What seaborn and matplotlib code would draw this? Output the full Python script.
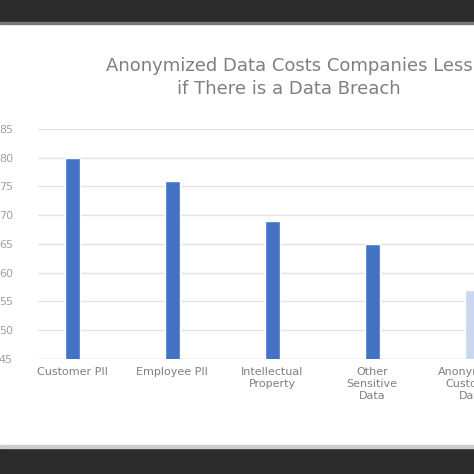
import matplotlib
matplotlib.use("Agg")
import matplotlib.pyplot as plt
import matplotlib.patches as mpatches
import seaborn as sns
import pandas as pd

categories = ["Customer PII", "Employee PII", "Intellectual\nProperty",
              "Other\nSensitive\nData", "Anonymized\nCustomer\nData"]
costs = [80, 76, 69, 65, 57]
yticks = [45, 50, 55, 60, 65, 70, 75, 80, 85]

df = pd.DataFrame({"category": categories, "cost": costs})

sns.set_style("white")
fig = plt.figure(figsize=(4.74, 4.74), dpi=100)
fig.patch.set_facecolor("white")

# dark bands top and bottom (screenshot frame)
fig.add_artist(mpatches.Rectangle((0, 1 - 22 / 474), 1, 22 / 474, transform=fig.transFigure,
                                  color="#2b2b2b", zorder=10))
fig.add_artist(mpatches.Rectangle((0, 1 - 24 / 474), 1, 2 / 474, transform=fig.transFigure,
                                  color="#777777", zorder=10))
fig.add_artist(mpatches.Rectangle((0, 0), 1, 26 / 474, transform=fig.transFigure,
                                  color="#2b2b2b", zorder=10))
fig.add_artist(mpatches.Rectangle((0, 26 / 474), 1, 3 / 474, transform=fig.transFigure,
                                  color="#cccccc", zorder=10))

ax = fig.add_axes([38 / 474, 1 - 359 / 474, 436 / 474, 230 / 474])
palette = ["#4472C4"] * 4 + ["#C9D8F0"]
sns.barplot(data=df, x="category", y="cost", hue="category", palette=palette,
            width=0.15, saturation=1, legend=False, ax=ax, zorder=3)
ax.set_xlim(-0.34, 4.02)
ax.set_ylim(45, 85)
ax.set_yticks(yticks)
ax.set_yticklabels([str(v) for v in yticks], color="#a0a0a0", fontsize=8)
ax.tick_params(axis="y", pad=18, length=0)
ax.tick_params(axis="x", length=0, pad=6, labelsize=8, labelcolor="#7f7f7f")
ax.yaxis.grid(True, color="#e3e3e3", linewidth=1, zorder=0)
for s in ax.spines.values():
    s.set_visible(False)
ax.axhline(45, color="#d9d9d9", linewidth=1, zorder=2)
ax.set_xlabel("")
ax.set_ylabel("")

fig.text(0.61, 1 - 66 / 474, "Anonymized Data Costs Companies Less", ha="center", va="center",
         fontsize=13, color="#7f7f7f")
fig.text(0.61, 1 - 89 / 474, "if There is a Data Breach", ha="center", va="center",
         fontsize=13, color="#7f7f7f")

fig.savefig("out.png", dpi=100)
